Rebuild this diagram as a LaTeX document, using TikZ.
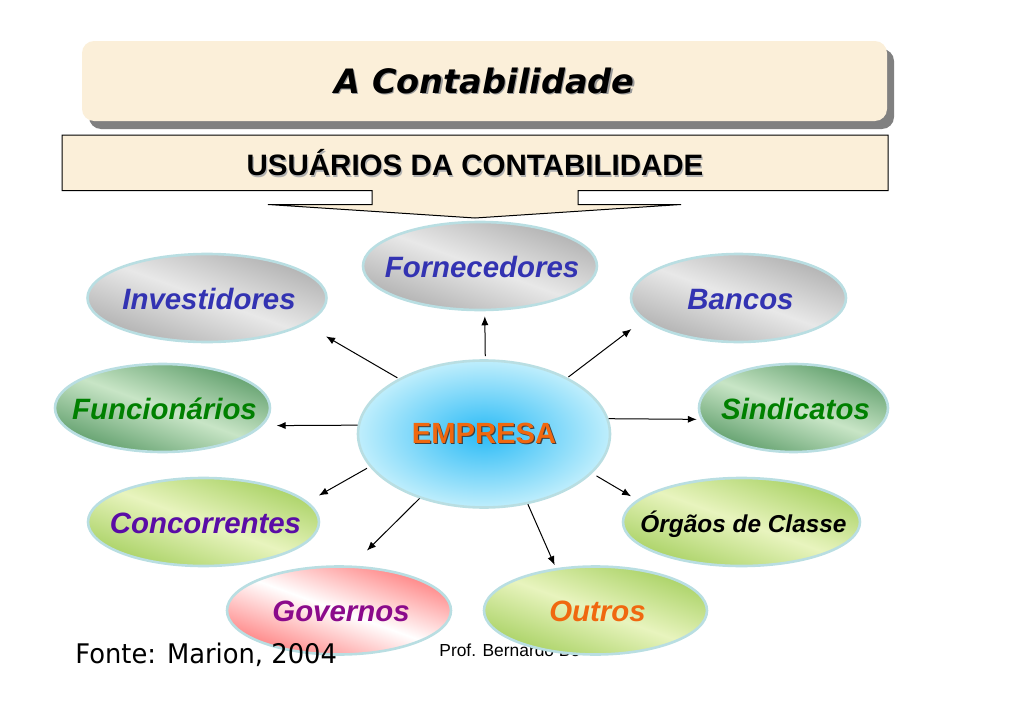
\documentclass[tikz,border=0pt]{standalone}
\usepackage{fontspec}
\usetikzlibrary{arrows.meta,shapes.geometric,shadows}
\setmainfont{Liberation Sans}
\newfontfamily\dejavu{DejaVu Sans}
\newfontfamily\dejavuestreita[FakeStretch=0.955]{DejaVu Sans}
\definecolor{papel}{HTML}{FBEFD9}
\definecolor{sombra}{HTML}{808080}
\definecolor{borda}{HTML}{B9DEE2}
\definecolor{azul}{HTML}{3333B2}
\definecolor{verde}{HTML}{008000}
\definecolor{roxo}{HTML}{5A0CA6}
\definecolor{lilas}{HTML}{8B0A8B}
\definecolor{laranja}{HTML}{F0680F}
\definecolor{cinzaforte}{HTML}{B0B0B0}
\definecolor{cinzaclaro}{HTML}{E8E8E8}
\definecolor{musgoforte}{HTML}{5F9E6B}
\definecolor{musgoclaro}{HTML}{C8E5C6}
\definecolor{limaforte}{HTML}{A8D163}
\definecolor{limaclara}{HTML}{E8F4BE}
\definecolor{rosaforte}{HTML}{FF8080}
\definecolor{ceuforte}{HTML}{2BBBF6}
\definecolor{ceuclaro}{HTML}{BFEEFC}
\newcommand{\comsombra}[2]{\rlap{\kern0.6pt\raisebox{-0.6pt}{\color{#1}#2}}#2}
\tikzset{
  bolha/.style={ellipse, draw=borda, line width=1.3pt, inner ysep=0pt, inner xsep=-20pt, minimum height=44pt,
    text height=11pt, text depth=0pt, execute at begin node=\kern2pt, font=\bfseries\itshape\fontsize{14.7}{16}\selectfont},
  cinza/.style={bolha, top color=cinzaforte, bottom color=cinzaforte, middle color=cinzaclaro, shading angle=-20},
  musgo/.style={bolha, top color=musgoforte, bottom color=musgoforte, middle color=musgoclaro, shading angle=-20},
  lima/.style={bolha, top color=limaforte, bottom color=limaforte, middle color=limaclara, shading angle=-20},
  rosa/.style={bolha, top color=rosaforte, bottom color=rosaforte, middle color=white, shading angle=-20},
  seta/.style={-{Latex[length=4.5pt,width=3.6pt]}, black, line width=0.5pt},
}
\begin{document}
\begin{tikzpicture}[x=0.5pt, y=-0.5pt]
    \useasboundingbox (0,0) rectangle (1030,728);
    % cabecalho
    \node[rounded corners=6pt, fill=papel, minimum width=402.5pt, minimum height=40pt, inner sep=0pt, text height=13.5pt,
      drop shadow={shadow xshift=3.5pt, shadow yshift=-4pt, fill=sombra, opacity=1},
      font=\dejavu\bfseries\itshape\fontsize{16.8}{18}\selectfont] (titulo) at (484.5,81) {\comsombra{black!40}{A Contabilidade}};
    \draw[fill=papel, draw=black, line width=0.5pt] (62,135) -- (888,135) -- (888,190.5) -- (578,190.5) -- (578,204.5)
      -- (681,204.5) -- (475,218) -- (268,204.5) -- (372,204.5) -- (372,190.5) -- (62,190.5) -- cycle;
    \node[font=\bfseries\fontsize{14.75}{16}\selectfont] (usuarios) at (475,163.5) {\comsombra{black!30}{USUÁRIOS DA CONTABILIDADE}};

    \node[anchor=base west, inner sep=0pt, font=\fontsize{8.7}{10}\selectfont] (prof) at (439,656) {Prof. Bernardo Bo};

    % empresa e usuarios
    \node[ellipse, draw=borda, line width=1.3pt, inner sep=0pt, minimum width=126pt, minimum height=73.5pt,
      inner color=ceuforte, outer color=ceuclaro, font=\bfseries\fontsize{14.6}{16}\selectfont] (empresa) at (484,434)
      {\color{laranja}\comsombra{black!75}{EMPRESA}};
    \node[cinza, minimum width=117pt, text=azul] (fornecedores) at (480,266) {Fornecedores};
    \node[cinza, minimum width=119.5pt, text=azul] (investidores) at (207,298) {Investidores};
    \node[cinza, minimum width=107.5pt, text=azul] (bancos) at (738.5,298) {Bancos};
    \node[musgo, minimum width=107.5pt, text=verde] (funcionarios) at (162.5,408) {Funcionários};
    \node[musgo, minimum width=94.5pt, text=verde] (sindicatos) at (793.5,408) {Sindicatos};
    \node[lima, minimum width=115.5pt, text=roxo] (concorrentes) at (203.5,522) {Concorrentes};
    \node[lima, minimum width=118.5pt, text=black, text height=10pt, font=\bfseries\itshape\fontsize{12.2}{14}\selectfont] (orgaos) at (741.5,522) {Órgãos de Classe};
    \node[rosa, minimum width=112pt, text=lilas] (governos) at (339,610.5) {Governos};
    \node[lima, minimum width=111.5pt, text=laranja] (outros) at (595.5,610.5) {Outros};

    \foreach \alvo/\sai/\chega/\recua/\folga in {fornecedores/89.5/276/1.5/2.5, investidores/147/345/0.7/12, bancos/34/193/0.5/7.5,
        funcionarios/176/350/0/7, sindicatos/7/187/0/2, concorrentes/196/11/1.5/6.3, orgaos/340/168/2.5/3.5,
        governos/225/74/0/10.6, outros/302/133/0/1.6} {
      \draw[seta, shorten <=\recua pt, shorten >=\folga pt] (empresa.\sai) -- (\alvo.\chega);
    }

    \node[anchor=base west, inner sep=0pt, font=\dejavuestreita\fontsize{13.5}{16}\selectfont] (fonte) at (75,663) {Fonte: Marion, 2004};
\end{tikzpicture}
\end{document}
